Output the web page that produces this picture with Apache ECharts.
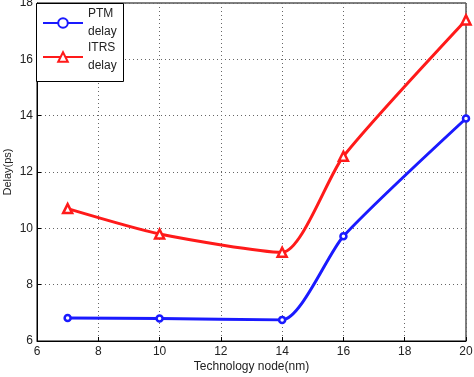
<!DOCTYPE html>
<html>
<head>
<meta charset="utf-8">
<script src="https://cdn.jsdelivr.net/npm/echarts@6/dist/echarts.min.js"></script>
<style>
  html, body { margin: 0; padding: 0; background: #fff; }
  #chart { width: 474px; height: 377px; }
</style>
</head>
<body>
<div id="chart"></div>
<script>
// values
const nodes = [7, 10, 14, 16, 20];
const ptmDelay = [6.82, 6.8, 6.75, 9.72, 13.9];
const itrsDelay = [10.7, 9.8, 9.15, 12.56, 17.4];

const font = 'Liberation Sans, Arial, sans-serif';

function pairs(xs, ys) {
    return xs.map((x, i) => [x, ys[i]]);
}

const myChart = echarts.init(document.getElementById('chart'));

const option = {
    animation: false,
    backgroundColor: '#fff',
    grid: {
        left: 37, right: 8, top: 3, bottom: 36,
        outerBoundsMode: 'none', containLabel: false,
        show: true, borderColor: '#000', borderWidth: 1
    },
    legend: {
        left: 36, top: -4,
        orient: 'vertical',
        itemWidth: 40, itemHeight: 12, itemGap: -20,
        padding: [0, 8, 0, 6],
        data: ['PTM\ndelay', 'ITRS\ndelay'],
        textStyle: {
            fontFamily: font, fontSize: 12, color: '#222',
            lineHeight: 18, padding: [18, 0, 0, 0]
        }
    },
    graphic: [{
        type: 'rect', z: 3,
        shape: { x: 36.5, y: 3.5, width: 87, height: 78 },
        style: { fill: '#fff', stroke: '#000', lineWidth: 1 }
    }],
    xAxis: {
        type: 'value', min: 6, max: 20, interval: 2,
        name: 'Technology node(nm)', nameLocation: 'middle', nameGap: 20,
        nameMoveOverlap: false,
        nameTextStyle: { fontFamily: font, fontSize: 12, color: '#222' },
        axisLine: { lineStyle: { color: '#000' } },
        axisTick: { inside: true, length: 4, lineStyle: { color: '#000' } },
        axisLabel: { fontFamily: font, fontSize: 12, color: '#222', margin: 5 },
        splitLine: { show: true, lineStyle: { color: '#666', type: [1, 3] } }
    },
    yAxis: {
        type: 'value', min: 6, max: 18, interval: 2,
        name: 'Delay(ps)', nameLocation: 'middle', nameGap: 24,
        nameMoveOverlap: false,
        nameTextStyle: { fontFamily: font, fontSize: 11, color: '#222' },
        axisLine: { lineStyle: { color: '#000' } },
        axisTick: { inside: true, length: 4, lineStyle: { color: '#000' } },
        axisLabel: { fontFamily: font, fontSize: 12, color: '#222', margin: 4 },
        splitLine: { show: true, lineStyle: { color: '#666', type: [1, 3] } }
    },
    series: [
        {
            name: 'PTM\ndelay', type: 'line', data: pairs(nodes, ptmDelay),
            smooth: 0.22, z: 2,
            symbol: 'circle', symbolSize: 6,
            lineStyle: { color: '#1a1aff', width: 3 },
            itemStyle: { color: '#fff', borderColor: '#1a1aff', borderWidth: 2.5 }
        },
        {
            name: 'ITRS\ndelay', type: 'line', data: pairs(nodes, itrsDelay),
            smooth: 0.22, z: 2,
            symbol: 'triangle', symbolSize: 9,
            lineStyle: { color: '#ff1a1a', width: 3 },
            itemStyle: { color: '#fff', borderColor: '#ff1a1a', borderWidth: 2.5 }
        }
    ]
};

myChart.setOption(option);
</script>
</body>
</html>
